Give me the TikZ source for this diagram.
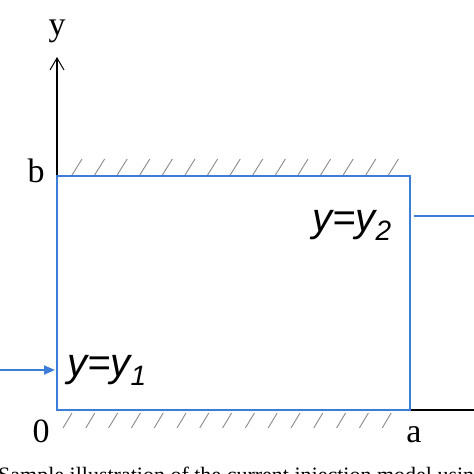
\documentclass[tikz,border=0pt]{standalone}
\usepackage{fontspec}
\setmainfont{Liberation Serif}
\newfontfamily\eqfont{Liberation Sans}
\usetikzlibrary{arrows.meta}
\definecolor{bdry}{HTML}{3C7DD9}
\definecolor{hatchgray}{HTML}{8A8A8A}
\tikzset{
  blueline/.style={draw=bdry, line width=2.2pt},
  hatchline/.style={draw=hatchgray, line width=0.9pt},
  axisline/.style={draw=black, line width=1.1pt},
  lab/.style={font=\fontsize{34}{34}\selectfont, inner sep=0pt, anchor=base},
  eqlab/.style={font=\eqfont\itshape\fontsize{40}{40}\selectfont, inner sep=0pt, anchor=base west},
  caplab/.style={font=\fontsize{22}{22}\selectfont, inner sep=0pt, anchor=base west},
}
\begin{document}
\begin{tikzpicture}[x=1pt,y=-1pt]
\useasboundingbox (0,0) rectangle (474,474);
\clip (0,0) rectangle (474,474);
% named points
\coordinate (O) at (57,410);
\coordinate (A) at (410,410);
\coordinate (B) at (57,176);
\coordinate (C) at (410,176);
\coordinate (ytip) at (57,57);
\coordinate (xend) at (476,410);
\coordinate (inL) at (-2,370);
\coordinate (inR) at (55,370);
\coordinate (outL) at (414,216);
\coordinate (outR) at (476,216);
% axes
\draw[axisline, -{Straight Barb[length=12pt,width=14pt,line width=1pt]}] (O) -- (ytip);
\draw[axisline] (A) -- (xend);
% hatching
\foreach \k in {0,...,14} \draw[hatchline] ({72+22.6*\k},175) -- ++(10,-16);
\foreach \k in {0,...,14} \draw[hatchline] ({63+22.8*\k},428) -- ++(9,-15);
% domain
\draw[blueline] (O) -- (B) -- (C) -- (A) -- cycle;
% injection / extraction
\draw[blueline, line width=1.8pt, -{Triangle[length=11pt,width=9pt]}] (inL) -- (inR);
\draw[blueline, line width=1.8pt] (outL) -- (outR);
% labels
\node[lab] (ylab) at (57,35) {y};
\node[lab] (blab) at (36,182) {b};
\node[lab] (zlab) at (41,442) {0};
\node[lab] (alab) at (414,442) {a};
\node[eqlab] (eqtwo) at (312,231) {y=y\raisebox{-9pt}{\fontsize{28}{28}\selectfont 2}};
\node[eqlab] (eqone) at (67,376) {y=y\raisebox{-9pt}{\fontsize{28}{28}\selectfont 1}};
\node[caplab] (cap) at (-2,482) {Sample illustration of the current injection model using};
\end{tikzpicture}
\end{document}
